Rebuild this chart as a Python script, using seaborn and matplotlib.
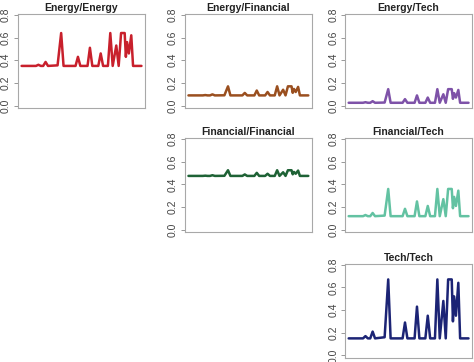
import numpy as np
import pandas as pd
import seaborn as sns
import matplotlib.pyplot as plt

# vertex positions of the piecewise series (time index)
t = [0, 12, 14, 16, 18, 20, 22, 30, 33, 35, 45, 47, 49, 55, 57, 59, 64, 66, 68,
     72, 74, 76, 79, 81, 83, 86, 87, 88, 89.5, 91.5, 93, 100]

energy_energy = [0.35, 0.35, 0.36, 0.35, 0.35, 0.385, 0.35, 0.355, 0.64, 0.35, 0.35, 0.43, 0.35,
                 0.35, 0.51, 0.35, 0.35, 0.46, 0.35, 0.35, 0.64, 0.35, 0.53, 0.35, 0.64, 0.64,
                 0.43, 0.56, 0.46, 0.62, 0.35, 0.35]
energy_financial = [0.09, 0.09, 0.093, 0.09, 0.09, 0.099, 0.09, 0.091, 0.17, 0.09, 0.09, 0.112, 0.09,
                    0.09, 0.133, 0.09, 0.09, 0.12, 0.09, 0.09, 0.17, 0.09, 0.14, 0.09, 0.17, 0.17,
                    0.113, 0.147, 0.12, 0.165, 0.09, 0.09]
energy_tech = [0.025, 0.025, 0.03, 0.025, 0.025, 0.039, 0.025, 0.027, 0.145, 0.025, 0.025, 0.057, 0.025,
               0.025, 0.09, 0.025, 0.025, 0.071, 0.025, 0.025, 0.145, 0.025, 0.10, 0.025, 0.145, 0.145,
               0.06, 0.11, 0.071, 0.138, 0.025, 0.025]
financial_financial = [0.475, 0.475, 0.477, 0.475, 0.475, 0.481, 0.475, 0.476, 0.525, 0.475, 0.475, 0.488,
                       0.475, 0.475, 0.502, 0.475, 0.475, 0.494, 0.475, 0.475, 0.525, 0.475, 0.507, 0.475,
                       0.525, 0.525, 0.489, 0.51, 0.494, 0.522, 0.475, 0.475]
financial_tech = [0.12, 0.12, 0.13, 0.12, 0.12, 0.148, 0.12, 0.125, 0.36, 0.12, 0.12, 0.185, 0.12,
                  0.12, 0.25, 0.12, 0.12, 0.21, 0.12, 0.12, 0.36, 0.12, 0.27, 0.12, 0.36, 0.36,
                  0.19, 0.29, 0.21, 0.345, 0.12, 0.12]
tech_tech = [0.15, 0.15, 0.17, 0.15, 0.15, 0.21, 0.15, 0.16, 0.67, 0.15, 0.15, 0.29, 0.15,
             0.15, 0.43, 0.15, 0.15, 0.35, 0.15, 0.15, 0.67, 0.15, 0.48, 0.15, 0.67, 0.67,
             0.30, 0.52, 0.35, 0.64, 0.15, 0.15]

panels = [
    ("Energy/Energy", energy_energy, "#c8202c", (0.038, 0.702)),
    ("Energy/Financial", energy_financial, "#9a4f1f", (0.390, 0.702)),
    ("Energy/Tech", energy_tech, "#7e52a8", (0.728, 0.702)),
    ("Financial/Financial", financial_financial, "#1e6235", (0.390, 0.359)),
    ("Financial/Tech", financial_tech, "#63c2a2", (0.728, 0.359)),
    ("Tech/Tech", tech_tech, "#1c2475", (0.728, 0.012)),
]

sns.set_style("white")
plt.rcParams["font.family"] = ["Liberation Sans", "DejaVu Sans"]

fig = plt.figure(figsize=(4.74, 3.62), dpi=100)

for title, vals, color, (x0, y0) in panels:
    ax = fig.add_axes([x0, y0, 0.268, 0.26])
    df = pd.DataFrame({"t": t, "v": vals})
    sns.lineplot(data=df, x="t", y="v", ax=ax, color=color, linewidth=1.8)
    ax.set_xlim(-3, 103)
    ax.set_ylim(-0.02, 0.81)
    ax.set_xticks([])
    ax.set_yticks([0.0, 0.2, 0.4, 0.6, 0.8])
    ax.set_yticklabels(["0.0", "0.2", "0.4", "0.6", "0.8"], rotation=90, va="center")
    ax.tick_params(axis="y", left=True, length=3, width=0.6, color="#888888",
                   labelsize=7.5, labelcolor="#444444", pad=2)
    ax.set_xlabel("")
    ax.set_ylabel("")
    for s in ax.spines.values():
        s.set_color("#a8a8a8")
        s.set_linewidth(0.8)
    ax.set_title(title, fontsize=7.5, fontweight="bold", color="#222222", pad=2)

fig.savefig("out.png", dpi=100)
